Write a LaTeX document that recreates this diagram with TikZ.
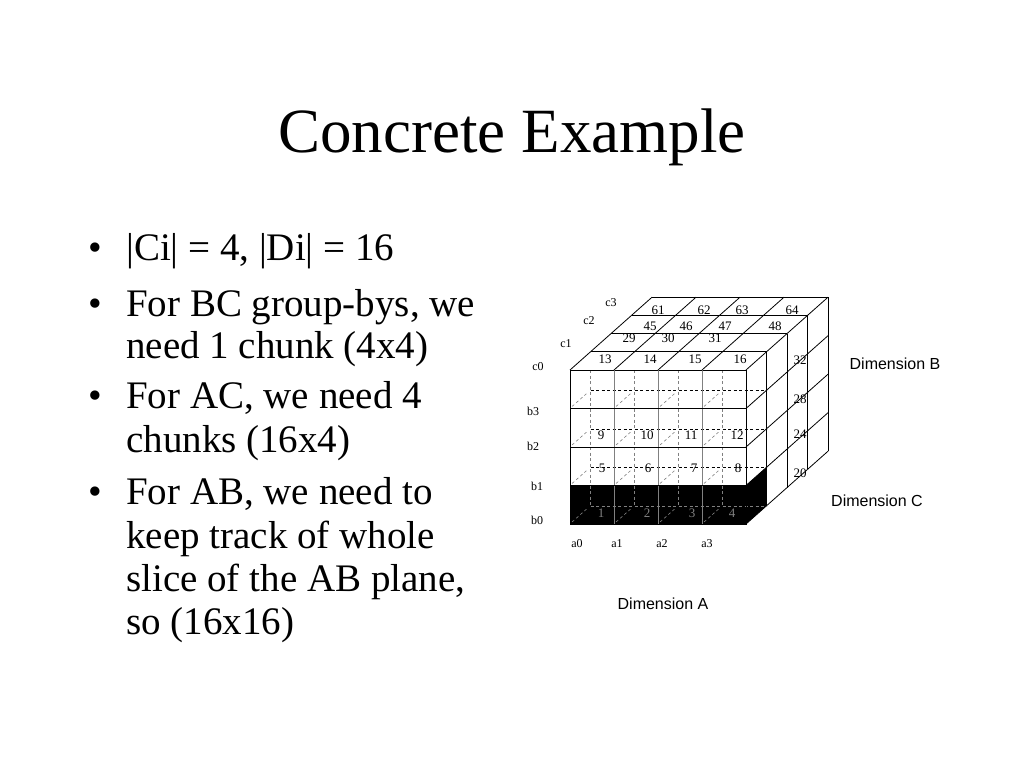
\documentclass[tikz,border=0pt]{standalone}
\usepackage{fontspec}
\setmainfont{Liberation Serif}
\newfontfamily\dimfont{Liberation Sans}
\usetikzlibrary{positioning}
\tikzset{
    bullet/.style={anchor=base west, font=\fontsize{39}{44}\selectfont, inner sep=0pt},
    cellnum/.style={font=\fontsize{13}{15}\selectfont, inner sep=0pt},
    axislabel/.style={font=\fontsize{12}{14}\selectfont, inner sep=0pt},
    dimlabel/.style={font=\dimfont\fontsize{16}{18}\selectfont, inner sep=0pt},
    grid/.style={line width=0.8pt},
    hidden/.style={line width=0.6pt, dashed, dash pattern=on 3pt off 2.5pt}
}
\begin{document}
\begin{tikzpicture}[x=1pt, y=-1pt]
\useasboundingbox (0,0) rectangle (1024,768);

% Title
\node[font=\fontsize{63}{70}\selectfont] (title) at (512,137) {Concrete Example};

% Bullets
\node[bullet] (b1dot) at (88,260) {\textbullet};
\node[bullet] (l1) at (126,260) {|Ci| = 4, |Di| = 16};
\node[bullet] (b2dot) at (88,316) {\textbullet};
\node[bullet] (l2) at (126,316) {For BC group-bys, we};
\node[bullet] (l2b) at (126,358) {need 1 chunk (4x4)};
\node[bullet] (b3dot) at (88,408) {\textbullet};
\node[bullet] (l3) at (126,408) {For AC, we need 4};
\node[bullet] (l3b) at (126,452) {chunks (16x4)};
\node[bullet] (b4dot) at (88,504) {\textbullet};
\node[bullet] (l4) at (126,504) {For AB, we need to};
\node[bullet] (l4b) at (126,548) {keep track of whole};
\node[bullet] (l4c) at (126,591) {slice of the AB plane,};
\node[bullet] (l4d) at (126,634) {so (16x16)};

% Cube: front face at (570,370), cell 44 x 38.5, depth step (20.5,-18.2)
\def\cw{44}\def\ch{38.5}\def\dx{20.5}\def\dy{-18.2}
% black b0 slice
\fill[black] (570,485.5) rectangle (746,524);
\fill[black] (746,485.5) -- ++(\dx,\dy) -- ++(0,\ch) -- (746,524) -- cycle;
% hidden grid of second layer
\foreach \i in {0,...,3} {
  \draw[hidden, gray] ({570+\dx+\i*\cw},{370+\dy+18.2}) -- ({570+\dx+\i*\cw},{524+\dy});
}
\foreach \j in {1,...,3} {
  \draw[hidden] ({570+\dx},{370+\dy+\j*\ch}) -- ({746+\dx},{370+\dy+\j*\ch});
}
\draw[hidden, gray] ({570+\dx},{524+\dy}) -- ({746+\dx},{524+\dy});
\foreach \i in {0,...,3} {
  \foreach \j in {1,...,4} {
    \draw[hidden, gray] ({572+\i*\cw},{368+\j*\ch}) -- ++({0.7*\dx},{0.7*\dy});
  }
}
% front face
\draw[grid] (570,370) rectangle (746,524);
\foreach \i in {1,...,3} \draw[grid, gray] ({570+\i*\cw},370) -- ({570+\i*\cw},524);
\foreach \j in {1,...,3} \draw[grid] (570,{370+\j*\ch}) -- (746,{370+\j*\ch});
% top face
\foreach \i in {0,...,4} \draw[grid] ({570+\i*\cw},370) -- ++({4*\dx},{4*\dy});
\foreach \k in {1,...,4} \draw[grid] ({570+\k*\dx},{370+\k*\dy}) -- ++(176,0);
% right face
\foreach \k in {1,...,4} \draw[grid] ({746+\k*\dx},{370+\k*\dy}) -- ++(0,154);
\foreach \j in {1,...,4} \draw[grid] (746,{370+\j*\ch}) -- ++({4*\dx},{4*\dy});

% cell numbers
\foreach \n/\x/\y in {13/605/359,14/650/359,15/695/359,16/740/359,
    29/629/338,30/668/338,31/715/338,
    45/650/326,46/686/326,47/725/326,48/775/326,
    61/658/310,62/704/310,63/742/310,64/792/310,
    32/800/360,28/800/399,24/800/434,20/800/473,
    9/601/435,10/647/435,11/691/435,12/737/435,
    5/602/468,6/648/468,7/694/468,8/738/468}
  \node[cellnum] (n\n) at (\x,\y) {\n};
\foreach \n/\x in {1/601,2/647,3/692,4/732}
  \node[cellnum, gray] (n\n) at (\x,513) {\n};

% axis labels
\foreach \t/\x/\y in {c3/611/303,c2/589/321,c1/566/344,c0/538/367,
    b3/533/411,b2/533/446,b1/537/486,b0/537/520,
    a0/577/544,a1/617/544,a2/662/544,a3/707/544}
  \node[axislabel] (lab\t) at (\x,\y) {\t};

\node[dimlabel] (dimB) at (895,364) {Dimension B};
\node[dimlabel] (dimC) at (877,501) {Dimension C};
\node[dimlabel] (dimA) at (663,604) {Dimension A};
\end{tikzpicture}
\end{document}
